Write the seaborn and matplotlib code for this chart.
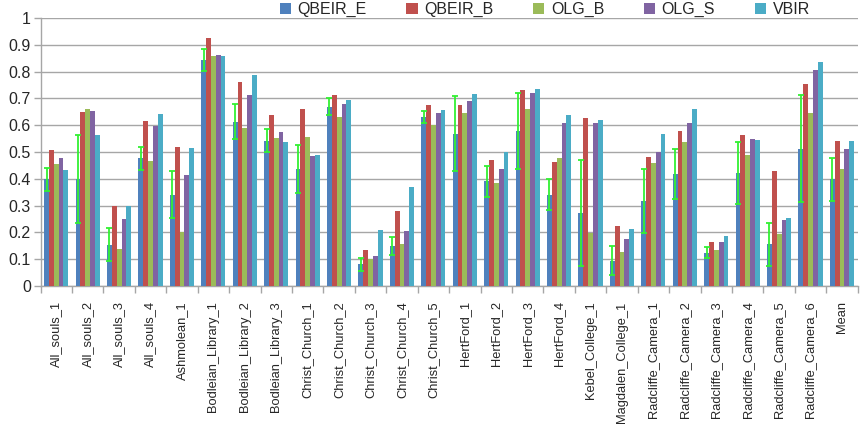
import numpy as np
import pandas as pd
import seaborn as sns
import matplotlib
matplotlib.use('Agg')
import matplotlib.pyplot as plt
from matplotlib.ticker import FuncFormatter

# 数据：从图上读出
cats = ['All_souls_1', 'All_souls_2', 'All_souls_3', 'All_souls_4', 'Ashmolean_1',
        'Bodleian_Library_1', 'Bodleian_Library_2', 'Bodleian_Library_3',
        'Christ_Church_1', 'Christ_Church_2', 'Christ_Church_3', 'Christ_Church_4',
        'Christ_Church_5', 'HertFord_1', 'HertFord_2', 'HertFord_3', 'HertFord_4',
        'Kebel_College_1', 'Magdalen_College_1', 'Radcliffe_Camera_1',
        'Radcliffe_Camera_2', 'Radcliffe_Camera_3', 'Radcliffe_Camera_4',
        'Radcliffe_Camera_5', 'Radcliffe_Camera_6', 'Mean']

qbeir_e = [0.398, 0.400, 0.154, 0.476, 0.340, 0.844, 0.614, 0.543, 0.438, 0.669,
           0.081, 0.149, 0.632, 0.568, 0.391, 0.578, 0.341, 0.273, 0.094, 0.317,
           0.419, 0.124, 0.422, 0.156, 0.512, 0.398]
qbeir_e_err = [0.042, 0.164, 0.062, 0.043, 0.088, 0.040, 0.065, 0.043, 0.089, 0.031,
               0.025, 0.034, 0.022, 0.140, 0.057, 0.142, 0.058, 0.198, 0.054, 0.120,
               0.093, 0.021, 0.115, 0.081, 0.200, 0.080]
qbeir_b = [0.506, 0.649, 0.300, 0.616, 0.519, 0.924, 0.763, 0.640, 0.662, 0.712,
           0.135, 0.280, 0.677, 0.675, 0.472, 0.730, 0.464, 0.629, 0.225, 0.482,
           0.580, 0.166, 0.563, 0.428, 0.755, 0.542]
olg_b = [0.454, 0.660, 0.137, 0.468, 0.201, 0.860, 0.588, 0.552, 0.557, 0.632,
         0.100, 0.156, 0.602, 0.647, 0.386, 0.660, 0.476, 0.197, 0.127, 0.459,
         0.536, 0.136, 0.489, 0.194, 0.645, 0.438]
olg_s = [0.478, 0.653, 0.250, 0.599, 0.416, 0.864, 0.714, 0.574, 0.487, 0.678,
         0.112, 0.205, 0.647, 0.689, 0.437, 0.720, 0.610, 0.608, 0.175, 0.499,
         0.609, 0.165, 0.548, 0.247, 0.805, 0.510]
vbir = [0.434, 0.563, 0.300, 0.643, 0.516, 0.860, 0.787, 0.536, 0.489, 0.693,
        0.209, 0.371, 0.658, 0.718, 0.502, 0.734, 0.640, 0.619, 0.213, 0.569,
        0.659, 0.187, 0.546, 0.252, 0.835, 0.542]

methods = ['QBEIR_E', 'QBEIR_B', 'OLG_B', 'OLG_S', 'VBIR']
colors = ['#4F81BD', '#C0504D', '#9BBB59', '#8064A2', '#4BACC6']

df = pd.DataFrame({'cat': cats, 'QBEIR_E': qbeir_e, 'QBEIR_B': qbeir_b,
                   'OLG_B': olg_b, 'OLG_S': olg_s, 'VBIR': vbir})
df = df.melt(id_vars='cat', var_name='method', value_name='val')

sns.set_style('white')
plt.rcParams['font.family'] = ['Liberation Sans', 'DejaVu Sans']

fig, ax = plt.subplots(figsize=(8.62, 4.32), dpi=100)
fig.subplots_adjust(left=0.047, right=0.995, top=0.958, bottom=0.338)

sns.barplot(data=df, x='cat', y='val', hue='method', hue_order=methods,
            palette=colors, width=0.77, saturation=1, ax=ax, legend=True,
            linewidth=0, zorder=3)

# 误差线画在第一组（QBEIR_E）上
xs = [p.get_x() + p.get_width() / 2 for p in ax.containers[0].patches]
ax.errorbar(xs, qbeir_e, yerr=qbeir_e_err, fmt='none', ecolor='#33F033',
            elinewidth=1.3, capsize=2.2, capthick=1.3, zorder=4)

ax.set_ylim(0, 1)
ax.set_xlim(-0.5, len(cats) - 0.5)
ax.set_yticks(np.arange(0, 1.01, 0.1))
ax.yaxis.set_major_formatter(FuncFormatter(lambda v, _: '{:g}'.format(round(v, 1))))
ax.grid(axis='y', color='#A6A6A6', linewidth=1, zorder=0)
ax.set_axisbelow(True)

ax.set_xticks(range(len(cats)))
ax.set_xticklabels(cats, rotation=90, fontsize=9.3)
ax.set_xticks(np.arange(-0.5, len(cats)), minor=True)
ax.tick_params(axis='x', which='major', length=0, pad=11)
ax.tick_params(axis='x', which='minor', length=5, color='#A6A6A6', width=1,
               direction='out', bottom=True)
ax.tick_params(axis='y', length=5, color='#A6A6A6', width=1, direction='out',
               left=True, labelsize=11.5, pad=2)
ax.set_xlabel('')
ax.set_ylabel('')

for s in ['top', 'right']:
    ax.spines[s].set_visible(False)
for s in ['left', 'bottom']:
    ax.spines[s].set_color('#A6A6A6')
    ax.spines[s].set_linewidth(1)

handles, labels = ax.get_legend_handles_labels()
ax.get_legend().remove()
fig.legend(handles, labels, loc='center', bbox_to_anchor=(0.632, 0.978), ncol=5,
           frameon=False, fontsize=11.5, handlelength=0.7, handleheight=0.7,
           handletextpad=0.4, columnspacing=2.5, borderaxespad=0)

fig.savefig('out.png', dpi=100)
